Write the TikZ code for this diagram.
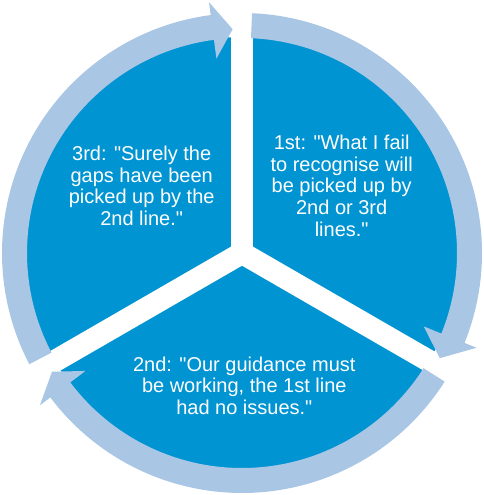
\documentclass[tikz,border=0pt]{standalone}
\usepackage{fontspec}
\setmainfont{Liberation Sans}
\definecolor{pieblue}{RGB}{0,148,210}
\definecolor{ringblue}{RGB}{169,198,229}
\newcommand{\qq}{\textquotedbl}
\tikzset{
  sector/.style={fill=pieblue},
  gapbar/.style={fill=white},
  ringarrow/.style={fill=ringblue},
  quote/.style={text=white, align=center, anchor=north, inner sep=0pt,
    font=\fontsize{20pt}{21.7pt}\selectfont}
}
\begin{document}
\begin{tikzpicture}[x=1pt,y=1pt]
\useasboundingbox (0,0) rectangle (483,495);
\begin{scope}[shift={(242,242)}]
  % pie
  \fill[sector] (0,0) circle (216pt);
  \foreach \a in {90,-30,210}
    \fill[gapbar, rotate=\a] (0,-11) rectangle (262,11);
  % ring arrows
  \foreach \s/\b/\t in {87.6/-22/-28, -32.4/-143/-148, 207.6/97.5/92.4}
    \fill[ringarrow] (\s:240pt) arc[start angle=\s, end angle=\b, radius=240pt]
      -- (\b:253pt) -- (\t:224pt) -- (\b:196pt) -- (\b:215pt)
      arc[start angle=\b, end angle=\s, radius=215pt] -- cycle;
\end{scope}
\node[quote] (first) at (341.7,360.3) {1st: \qq What I fail\\to recognise will\\be picked up by\\2nd or 3rd\\lines.\qq};
\node[quote] (third) at (141.7,349.3) {3rd: \qq Surely the\\gaps have been\\picked up by the\\2nd line.\qq};
\node[quote] (second) at (244.3,138.6) {2nd: \qq Our guidance must\\be working, the 1st line\\had no issues.\qq};
\end{tikzpicture}
\end{document}
